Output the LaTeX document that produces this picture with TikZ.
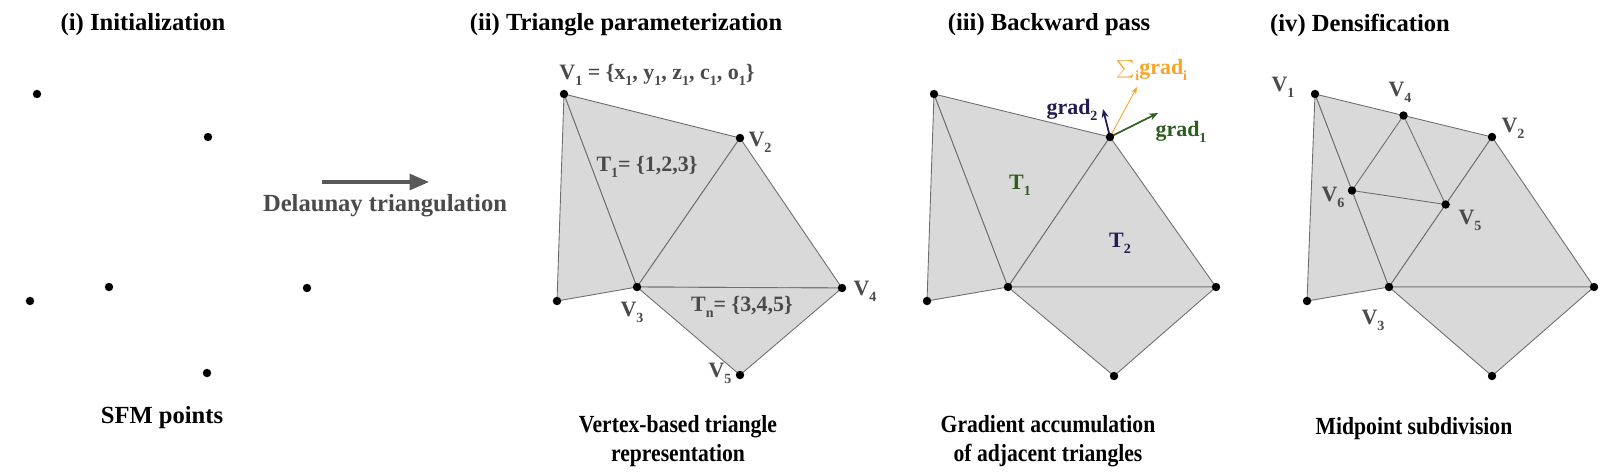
\documentclass[tikz,border=0pt]{standalone}
\usepackage{fontspec}
\setmainfont{Liberation Serif}
\newfontfamily\etroite{Liberation Serif}[FakeStretch=0.88]
\usetikzlibrary{arrows.meta,calc}
\definecolor{gristexte}{HTML}{4A4A4A}
\definecolor{grisfond}{HTML}{D9D9D9}
\definecolor{grisbord}{HTML}{6E6E6E}
\definecolor{grisfleche}{HTML}{595959}
\definecolor{vertgrad}{HTML}{2F5C1F}
\definecolor{bleugrad}{HTML}{221C52}
\definecolor{orangegrad}{HTML}{F4A52A}
\newcommand\bas[1]{\raisebox{-0.6ex}{\fontsize{8}{8}\selectfont#1}}

\begin{document}
\begin{tikzpicture}[
    x=0.02cm, y=-0.02cm,
    titre/.style={font=\fontsize{14}{16}\selectfont\bfseries},
    legende/.style={font=\etroite\fontsize{14}{16.5}\selectfont\bfseries, align=center},
    etiq/.style={font=\fontsize{12.5}{14}\selectfont\bfseries, text=gristexte, inner sep=1pt},
    tri/.style={fill=grisfond, draw=grisbord, line width=0.5pt, line join=round},
    pt/.style={circle, fill=black, inner sep=0pt, minimum size=4.8pt},
    grad/.style={-{Stealth[length=5pt, width=4pt]}, line width=1pt},
  ]
  \useasboundingbox (0,0) rectangle (1606,474);

  % (i) les points SFM
  \node[titre] (titre1) at (143,25) {(i) Initialization};
  \foreach \nom/\x/\y in {p1/37/94, p2/208/137, p3/30/301, p4/109/287, p5/307/288, p6/207/373}
    \node[pt] (\nom) at (\x,\y) {};
  \node[titre] (leg1) at (162,418) {SFM points};

  % passage a la triangulation
  \coordinate (f0) at (322,182);
  \coordinate (f1) at (429,182);
  \draw[grisfleche, line width=1.9pt, -{Triangle[length=11pt, width=9pt]}] (f0) -- (f1);
  \node[titre, text=gristexte] (delaunay) at (385,206) {Delaunay triangulation};

  % (ii) parametrisation
  \node[titre] (titre2) at (626,25) {(ii) Triangle parameterization};
  \coordinate (a1) at (564,94);
  \coordinate (a2) at (740,138);
  \coordinate (a3) at (637,287);
  \coordinate (a4) at (842,288);
  \coordinate (a5) at (740,375);
  \coordinate (aL) at (557,301);
  \filldraw[tri] (a1) -- (aL) -- (a3) -- cycle;
  \filldraw[tri] (a1) -- (a3) -- (a2) -- cycle;
  \filldraw[tri] (a2) -- (a3) -- (a4) -- cycle;
  \filldraw[tri] (a3) -- (a4) -- (a5) -- cycle;
  \foreach \s in {a1,a2,a3,a4,a5,aL}
    \node[pt] (\s-pt) at (\s) {};
  \node[etiq] (v1a) at (657,75) {V\bas{1} = \{x\bas{1}, y\bas{1}, z\bas{1}, c\bas{1}, o\bas{1}\}};
  \node[etiq] (v2a) at (760,142) {V\bas{2}};
  \node[etiq] (v3a) at (632,312) {V\bas{3}};
  \node[etiq] (v4a) at (865,291) {V\bas{4}};
  \node[etiq] (v5a) at (720,373) {V\bas{5}};
  \node[etiq] (t1a) at (647,167) {T\bas{1}= \{1,2,3\}};
  \node[etiq] (tna) at (742,307) {T\bas{n}= \{3,4,5\}};
  \node[legende] (leg2) at (678,441) {Vertex-based triangle\\representation};

  % (iii) retropropagation
  \node[titre] (titre3) at (1049,25) {(iii) Backward pass};
  \coordinate (b1) at (934,94);
  \coordinate (b2) at (1110,137);
  \coordinate (b3) at (1008,287);
  \coordinate (b4) at (1216,287);
  \coordinate (b5) at (1114,376);
  \coordinate (bL) at (927,301);
  \filldraw[tri] (b1) -- (bL) -- (b3) -- cycle;
  \filldraw[tri] (b1) -- (b3) -- (b2) -- cycle;
  \filldraw[tri] (b2) -- (b3) -- (b4) -- cycle;
  \filldraw[tri] (b3) -- (b4) -- (b5) -- cycle;
  \coordinate (g1) at (1158,113);
  \coordinate (g2) at (1103,109);
  \coordinate (gs) at (1137,87);
  \draw[grad, vertgrad] (b2) -- (g1);
  \draw[grad, bleugrad] (b2) -- (g2);
  \draw[orangegrad, line width=0.5pt, -{Stealth[length=4pt, width=3pt]}] (b2) -- (gs);
  \foreach \s in {b1,b2,b3,b4,b5,bL}
    \node[pt] (\s-pt) at (\s) {};
  \node[etiq, text=vertgrad] (t1b) at (1020,185) {T\bas{1}};
  \node[etiq, text=bleugrad] (t2b) at (1120,243) {T\bas{2}};
  \node[etiq, text=bleugrad] (g2b) at (1072,110) {grad\bas{2}};
  \node[etiq, text=vertgrad] (g1b) at (1181,132) {grad\bas{1}};
  \node[etiq, text=orangegrad] (gsb) at (1152,70) {$\sum$\bas{i}grad\bas{i}};
  \node[legende] (leg3) at (1048,441) {Gradient accumulation\\of adjacent triangles};

  % (iv) densification
  \node[titre] (titre4) at (1360,25) {(iv) Densification};
  \coordinate (c1) at (1315,94);
  \coordinate (c2) at (1492,137);
  \coordinate (c3) at (1389,287);
  \coordinate (cR) at (1594,287);
  \coordinate (cB) at (1492,376);
  \coordinate (cL) at (1307,301);
  \coordinate (c4) at ($(c1)!0.5!(c2)$);
  \coordinate (c5) at ($(c2)!0.45!(c3)$);
  \coordinate (c6) at ($(c1)!0.5!(c3)$);
  \filldraw[tri] (c1) -- (cL) -- (c3) -- cycle;
  \filldraw[tri] (c1) -- (c3) -- (c2) -- cycle;
  \filldraw[tri] (c2) -- (c3) -- (cR) -- cycle;
  \filldraw[tri] (c3) -- (cR) -- (cB) -- cycle;
  \draw[tri, fill=none] (c4) -- (c6) -- (c5) -- cycle;
  \foreach \s in {c1,c2,c3,c4,c5,c6,cR,cB,cL}
    \node[pt] (\s-pt) at (\s) {};
  \node[etiq] (v1c) at (1283,87) {V\bas{1}};
  \node[etiq] (v4c) at (1400,92) {V\bas{4}};
  \node[etiq] (v2c) at (1513,128) {V\bas{2}};
  \node[etiq] (v6c) at (1333,197) {V\bas{6}};
  \node[etiq] (v5c) at (1470,220) {V\bas{5}};
  \node[etiq] (v3c) at (1373,320) {V\bas{3}};
  \node[legende] (leg4) at (1414,429) {Midpoint subdivision};
\end{tikzpicture}
\end{document}
